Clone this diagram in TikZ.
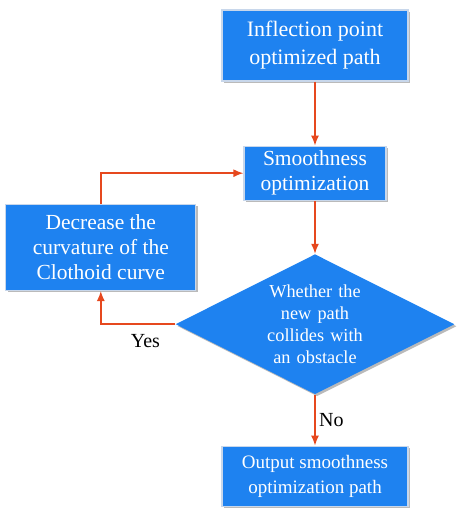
\documentclass[tikz,border=0pt]{standalone}
\usepackage{fontspec}
\setmainfont{Liberation Serif}
\usetikzlibrary{shapes.geometric,positioning,shadows,arrows.meta}
\definecolor{boxblue}{RGB}{30,130,240}
\definecolor{boxedge}{RGB}{200,215,235}
\definecolor{arrred}{RGB}{230,72,30}

\begin{document}
\begin{tikzpicture}[thick,
    block/.style={draw=boxedge, line width=1.2pt, fill=boxblue, text=white, align=center,
        inner sep=2pt, font=\fontsize{21.5}{25}\selectfont,
        drop shadow={shadow xshift=2pt, shadow yshift=-2pt, fill=black!45, opacity=.6}},
    decision/.style={diamond, fill=boxblue, text=white, align=center, inner sep=0pt,
        shape aspect=2, text width=100pt, font=\fontsize{18.3}{22}\selectfont,
        minimum width=279pt, minimum height=140pt,
        drop shadow={shadow xshift=2pt, shadow yshift=-2pt, fill=black!45, opacity=.6}},
    arr/.style={draw=arrred, line width=1.5pt, -{Latex[length=10pt,width=8pt]}},
    lbl/.style={font=\fontsize{20}{24}\selectfont}]
    \useasboundingbox (0,0) rectangle (474pt,-516pt);
    \node [block, minimum width=186pt, minimum height=71pt, font=\fontsize{22}{28}\selectfont]
        (start) at (315pt,-45.5pt) {Inflection point\\optimized path};
    \node [block, minimum width=142pt, minimum height=54pt]
        (smooth) [below=64pt of start] {Smoothness\\optimization};
    \node [decision] (check) [below=53pt of smooth]
        {Whether the\\new path\\collides with\\an obstacle};
    \node [block, minimum width=186pt, minimum height=60pt, font=\fontsize{19}{25}\selectfont]
        (output) [below=51pt of check] {Output smoothness\\optimization path};
    \node [block, minimum width=190pt, minimum height=86pt]
        (decrease) [below left=3pt and 47pt of smooth]
        {Decrease the\\curvature of the\\Clothoid curve};
    \draw[arr] (start) -- (smooth);
    \draw[arr] (smooth) -- (check);
    \draw[arr] (check) -- node[lbl, right, pos=.5] {No} (output);
    \draw[arr] (check.west) -| node[lbl, below=6pt, pos=.2] {Yes} (decrease.south);
    \draw[arr] (decrease.north) |- (smooth.west);
\end{tikzpicture}
\end{document}
